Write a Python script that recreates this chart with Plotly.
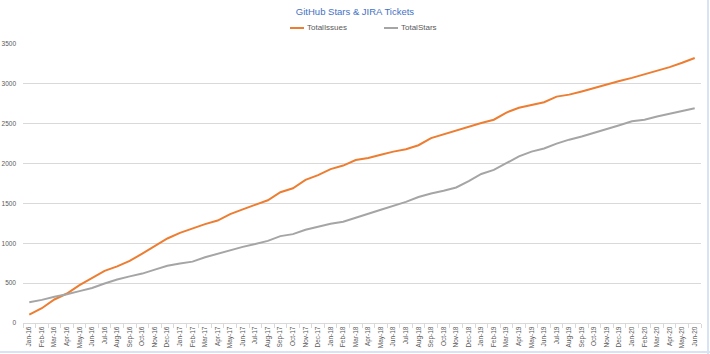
import plotly.graph_objects as go

months = ["Jan-16","Feb-16","Mar-16","Apr-16","May-16","Jun-16","Jul-16","Aug-16","Sep-16","Oct-16","Nov-16","Dec-16",
          "Jan-17","Feb-17","Mar-17","Apr-17","May-17","Jun-17","Jul-17","Aug-17","Sep-17","Oct-17","Nov-17","Dec-17",
          "Jan-18","Feb-18","Mar-18","Apr-18","May-18","Jun-18","Jul-18","Aug-18","Sep-18","Oct-18","Nov-18","Dec-18",
          "Jan-19","Feb-19","Mar-19","Apr-19","May-19","Jun-19","Jul-19","Aug-19","Sep-19","Oct-19","Nov-19","Dec-19",
          "Jan-20","Feb-20","Mar-20","Apr-20","May-20","Jun-20"]

total_issues = [105,185,295,370,475,565,655,710,780,870,970,1060,
                1130,1190,1240,1285,1365,1425,1480,1540,1640,1690,1795,1855,
                1930,1975,2045,2070,2110,2150,2180,2230,2320,2370,2415,2460,
                2510,2550,2640,2700,2735,2770,2840,2865,2905,2950,2990,3035,
                3075,3120,3170,3210,3265,3325]

total_stars = [260,290,330,360,400,440,495,545,585,620,670,718,
               747,770,825,870,915,955,990,1030,1090,1115,1170,1210,
               1245,1270,1325,1370,1420,1470,1520,1580,1625,1660,1700,1780,
               1870,1920,2000,2090,2150,2190,2250,2300,2340,2385,2430,2480,
               2530,2550,2590,2625,2660,2695]

y_ticks = [0, 500, 1000, 1500, 2000, 2500, 3000, 3500]

series_names = ["TotalIssues", "TotalStars"]
series_colors = ["#ED7D31", "#A5A5A5"]

FONT = "Liberation Sans"
W, H = 710, 354
L, R, T, B = 23, 9, 44, 31
PW, PH = W - L - R, H - T - B

def px_x(x):
    return (x - L) / PW

def px_y(y):
    return (H - B - y) / PH

fig = go.Figure()
for name, vals, col in zip(series_names, [total_issues, total_stars], series_colors):
    fig.add_trace(go.Scatter(x=months, y=vals, mode="lines", name=name,
                             line=dict(color=col, width=2), showlegend=False))

fig.update_layout(
    width=W, height=H,
    margin=dict(l=L, r=R, t=T, b=B, autoexpand=False),
    paper_bgcolor="white", plot_bgcolor="white",
    font=dict(family=FONT, color="#595959", size=7),
    title=dict(text="GitHub Stars & JIRA Tickets", x=0.5, xanchor="center",
               y=1 - 12/H, yanchor="middle", yref="container",
               font=dict(family=FONT, size=9.5, color="#4472C4")),
    showlegend=False,
    xaxis=dict(type="category", range=[-0.5, len(months) - 0.5],
               tickangle=-90, tickson="boundaries", ticks="outside", ticklen=4,
               tickcolor="#D9D9D9", showline=True, linecolor="#D9D9D9", linewidth=1,
               showgrid=False, tickfont=dict(size=6.5, color="#595959"), automargin=False),
    yaxis=dict(range=[0, 3500], tickvals=y_ticks, showgrid=True, gridcolor="#D9D9D9",
               gridwidth=1, zeroline=False, showline=False, ticks="",
               ticklabelstandoff=6,
               tickfont=dict(size=6.5, color="#595959"), automargin=False),
)

# custom legend (short swatches like the reference)
legend_x = [290, 384]
for name, col, lx in zip(series_names, series_colors, legend_x):
    fig.add_shape(type="line", xref="paper", yref="paper",
                  x0=px_x(lx), x1=px_x(lx + 14), y0=px_y(28), y1=px_y(28),
                  line=dict(color=col, width=2))
    fig.add_annotation(xref="paper", yref="paper", x=px_x(lx + 15), y=px_y(28),
                       text=name, showarrow=False, xanchor="left", yanchor="middle",
                       font=dict(family=FONT, size=8, color="#595959"))

# light frame at right/bottom edge like the worksheet background
fig.add_shape(type="line", xref="paper", yref="paper", x0=px_x(708), x1=px_x(708),
              y0=px_y(H), y1=px_y(0), line=dict(color="#DAE3F3", width=2))
fig.add_shape(type="line", xref="paper", yref="paper", x0=px_x(0), x1=px_x(W),
              y0=px_y(352), y1=px_y(352), line=dict(color="#DAE3F3", width=2))

fig.write_html("out.html")
